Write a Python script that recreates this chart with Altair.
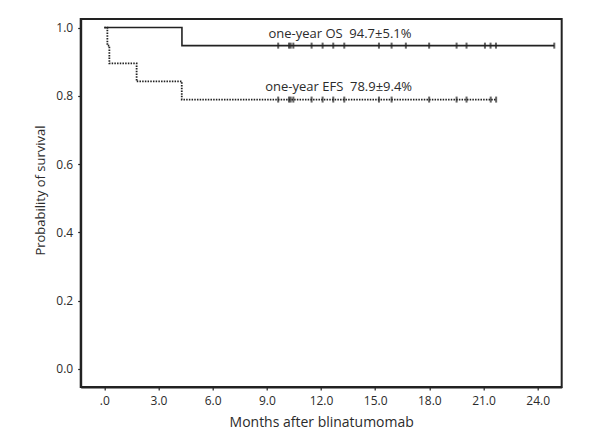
import altair as alt
import pandas as pd

# Kaplan-Meier step data (months, survival probability)
os_times = [0.0, 4.3, 24.92]
os_surv = [1.0, 0.947, 0.947]
efs_times = [0.0, 0.17, 0.28, 1.79, 4.29, 21.73]
efs_surv = [1.0, 0.947, 0.895, 0.842, 0.789, 0.789]

# censored observations
os_cens = [9.63, 10.23, 10.32, 10.47, 11.48, 12.09, 12.68, 13.29, 15.21, 15.91,
           16.70, 17.99, 19.51, 20.06, 21.08, 21.39, 21.69, 24.92]
os_cens_surv = 0.947
efs_cens = [9.63, 10.23, 10.32, 10.47, 11.48, 12.09, 12.68, 13.29, 15.21, 15.91,
            17.99, 19.51, 20.06, 21.40, 21.70]
efs_cens_surv = 0.789

labels = ["one-year OS\u00a0\u00a094.7\u00b15.1%", "one-year EFS\u00a0\u00a078.9\u00b19.4%"]
label_x = [13.05, 12.98]
label_y = [0.981, 0.826]

x_ticks = [0, 3, 6, 9, 12, 15, 18, 21, 24]
y_ticks = [0.0, 0.2, 0.4, 0.6, 0.8, 1.0]

FONT = "Open Sans"
INK = "#222222"
TXT = "#2b2b2b"

os_df = pd.DataFrame({"t": os_times, "s": os_surv})
efs_df = pd.DataFrame({"t": efs_times, "s": efs_surv})
osc_df = pd.DataFrame({"t": os_cens, "s": [os_cens_surv] * len(os_cens)})
efsc_df = pd.DataFrame({"t": efs_cens, "s": [efs_cens_surv] * len(efs_cens)})
lab_df = pd.DataFrame({"t": label_x, "s": label_y, "label": labels})

xscale = alt.Scale(domain=[-1.307, 25.33], nice=False, zero=False)
yscale = alt.Scale(domain=[-0.053, 1.025], nice=False, zero=False)

xenc = alt.X("t:Q", scale=xscale, axis=alt.Axis(
    title="Months after blinatumomab", values=x_ticks,
    labelExpr="datum.value == 0 ? '.0' : format(datum.value, '.1f')",
    grid=False, tickSize=3, labelPadding=6, titleY=36, titleBaseline="middle",
    titleFontSize=14))
yenc = alt.Y("s:Q", scale=yscale, axis=alt.Axis(
    title="Probability of survival", values=y_ticks, format=".1f",
    grid=False, tickSize=3, labelPadding=5, titleX=-40, titleY=171,
    titleBaseline="middle", titleAlign="center", titleFontSize=13))

os_line = alt.Chart(os_df).mark_line(interpolate="step-after", color=INK, strokeWidth=1.6).encode(
    x=xenc, y=yenc)
efs_line = alt.Chart(efs_df).mark_line(interpolate="step-after", color=INK, strokeWidth=1.8,
                                       strokeDash=[1.5, 1.2]).encode(x="t:Q", y="s:Q")
os_ticks = alt.Chart(osc_df).mark_tick(orient="vertical", color=INK, size=6, thickness=2).encode(
    x="t:Q", y="s:Q")
efs_ticks = alt.Chart(efsc_df).mark_tick(orient="vertical", color=INK, size=6, thickness=2).encode(
    x="t:Q", y="s:Q")
text = alt.Chart(lab_df).mark_text(font=FONT, fontSize=13, color=TXT, align="center",
                                   baseline="middle").encode(x="t:Q", y="s:Q", text="label:N")

chart = alt.layer(os_line, efs_line, os_ticks, efs_ticks, text).properties(
    width=481, height=368,
    autosize=alt.AutoSizeParams(type="none"),
    padding={"left": 72.7, "top": 11, "right": 30, "bottom": 50},
).configure_view(
    stroke=INK, strokeWidth=2
).configure_axis(
    domainColor=INK, domainWidth=2, tickColor=INK, tickWidth=1.2,
    labelFont=FONT, titleFont=FONT, labelFontSize=12, labelColor=TXT,
    titleColor=TXT, titleFontWeight="normal"
)

chart.save("out.html", embed_options={"renderer": "svg", "actions": False})
